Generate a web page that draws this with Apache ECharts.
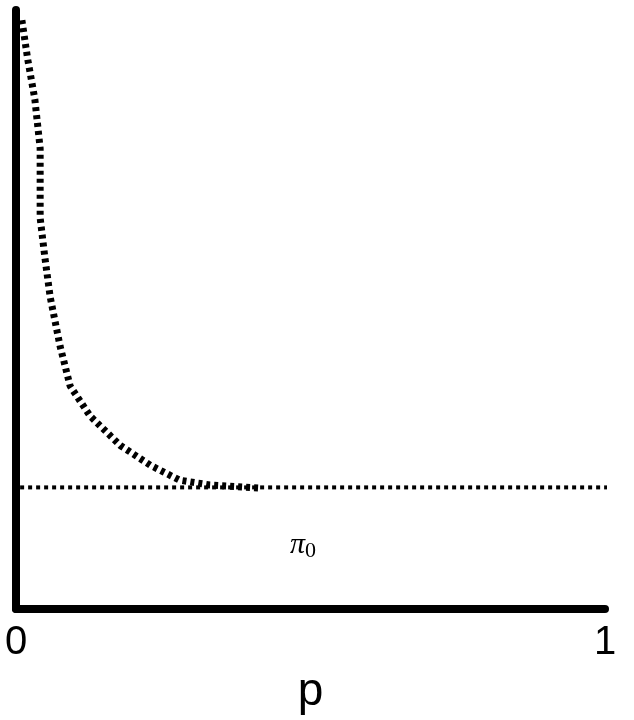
<!DOCTYPE html>
<html><head><meta charset="utf-8">
<script src="https://cdn.jsdelivr.net/npm/echarts@6/dist/echarts.min.js"></script>
<style>html,body{margin:0;padding:0;background:#fff}#c{width:634px;height:720px}</style>
</head><body><div id="c"></div>
<script>
const curveX=[0.010,0.020,0.032,0.041,0.041,0.049,0.058,0.075,0.092,0.126,0.177,0.228,0.278,0.329,0.414];
const curveY=[0.983,0.917,0.851,0.769,0.653,0.587,0.521,0.438,0.372,0.322,0.273,0.240,0.215,0.207,0.202];
const pi0=0.203;
const flatX=[0.007,1.01];
const xTicks=['0','1'];
const chart=echarts.init(document.getElementById('c'));
chart.setOption({
 animation:false,
 grid:{left:16,right:29,top:10,bottom:105},
 xAxis:{type:'value',min:0,max:1,interval:1,
  axisLine:{onZero:false,lineStyle:{color:'#000',width:8}},axisTick:{show:false},splitLine:{show:false},
  axisLabel:{color:'#000',fontSize:40,fontFamily:'Liberation Sans, Arial',margin:14,formatter:v=>xTicks[Math.round(v)]},
  name:'p',nameLocation:'middle',nameGap:60,nameTextStyle:{color:'#000',fontSize:46,fontFamily:'Liberation Sans, Arial'}},
 yAxis:{type:'value',min:0,max:1,axisLine:{show:true,lineStyle:{color:'#000',width:8}},axisTick:{show:false},axisLabel:{show:false},splitLine:{show:false}},
 series:[
  {type:'line',data:curveX.map((x,i)=>[x,curveY[i]]),symbol:'none',lineStyle:{color:'#000',width:7,type:[4,4]}},
  {type:'line',data:flatX.map(x=>[x,pi0]),symbol:'none',lineStyle:{color:'#000',width:4,type:[4,4]}}
 ],
 graphic:[{type:'text',left:290,top:530,style:{text:'{a|π}{b|0}',rich:{a:{fontSize:30,fontStyle:'italic',fontFamily:'Liberation Serif, serif',fill:'#000'},b:{fontSize:22,fontFamily:'Liberation Serif, serif',fill:'#000',padding:[12,0,0,0]}}}}]
});
</script></body></html>
